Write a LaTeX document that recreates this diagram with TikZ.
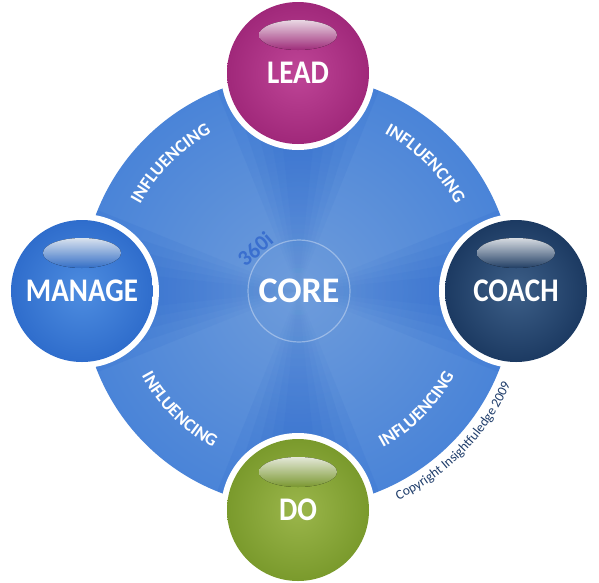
\documentclass[tikz,border=0pt]{standalone}
\usepackage{fontspec}
\setmainfont{Carlito}
\usetikzlibrary{decorations.text,fadings,shadings}
\definecolor{diskin}{HTML}{6E9CDB}
\definecolor{diskout}{HTML}{4A84D8}
\definecolor{diskdark}{HTML}{2E6ACD}
\definecolor{leadin}{HTML}{BF4597}
\definecolor{leadout}{HTML}{A0287A}
\definecolor{manin}{HTML}{4E8DE0}
\definecolor{manout}{HTML}{2F6DCC}
\definecolor{coachin}{HTML}{3D5F88}
\definecolor{coachout}{HTML}{1C3A62}
\definecolor{doin}{HTML}{9BB64B}
\definecolor{doout}{HTML}{7A9A2C}
\definecolor{copyc}{HTML}{1F3D6B}
\definecolor{numc}{HTML}{3A6FCF}
\tikzfading[name=outfade, inner color=transparent!100, outer color=transparent!0]
\newcommand\inflfont{\bfseries\fontsize{18}{18}\selectfont}
\newcommand\copyfont{\fontsize{13.5}{13.5}\selectfont}
\newcommand\balltext[1]{\scalebox{0.88}[1]{#1}}
\tikzset{
  ring/.style={circle, fill=white, minimum size=154pt, inner sep=0pt},
  ball/.style n args={2}{circle, minimum size=142pt, inner sep=0pt, inner color=#1, outer color=#2,
     text=white, font=\bfseries\fontsize{33}{33}\selectfont},
  gloss/.style n args={2}{top color=white!85!#1, bottom color=#2!80!#1, opacity=0.95},
  influ/.style={decorate, decoration={text along path, text={|\inflfont|INFLUENCING}, text align=center, text color=white}},
  balllabel/.style={text=white, font=\bfseries\fontsize{33}{33}\selectfont},
}
\begin{document}
\begin{tikzpicture}[x=1pt,y=1pt]
\useasboundingbox (-298,-291) rectangle (301,291);
\fill[white] (-298,-291) rectangle (301,291);
% main disk
\shade[inner color=diskin, outer color=diskout] (0,0) circle (216);
\begin{scope}
  \clip (0,0) circle (216);
  \foreach \a in {0,90,180,270} {
    \foreach \w in {6,10,14,18,22} {
      \fill[diskdark, fill opacity=0.16, path fading=outfade, fit fading=false, fading transform={scale=7}]
        (0,0) -- (\a-\w:260) -- (\a+\w:260) -- cycle;
    }
  }
\end{scope}
% core
\node[circle, draw=white, draw opacity=0.35, line width=1.2pt, minimum size=102pt, inner sep=0pt] (corering) at (1,0) {};
\node[text=white, font=\bfseries\fontsize{36}{36}\selectfont] (core) at (1,0) {CORE};
\node[text=numc, font=\bfseries\fontsize{22}{22}\selectfont, rotate=41, inner sep=0pt] (num) at (-43,42) {360i};
% influencing labels
\path[influ] (165:180) arc[start angle=165, end angle=105, radius=180];
\path[influ] (75:180) arc[start angle=75, end angle=15, radius=180];
\path[influ] (195:178) arc[start angle=195, end angle=255, radius=178];
\path[influ] (285:178) arc[start angle=285, end angle=345, radius=178];
% copyright
\path[decorate, decoration={text along path, text={|\copyfont|Copyright Insightfuledge 2009}, text align=center, text color=copyc}]
  (-68:232) arc[start angle=-68, end angle=-20, radius=232];
% satellites
\node[ring] (leadring) at (0,218) {};
\node[ring] (manring) at (-216,0) {};
\node[ring] (coachring) at (218,0) {};
\node[ring] (doring) at (0,-219) {};
\node[ball={leadin}{leadout}] (lead) at (0,218) {};
\node[ball={manin}{manout}] (manage) at (-216,0) {};
\node[ball={coachin}{coachout}] (coach) at (218,0) {};
\node[ball={doin}{doout}] (do) at (0,-219) {};
\fill[gloss={leadin}{leadout}] ([yshift=38pt]lead.center) ellipse [x radius=39, y radius=15];
\fill[gloss={manin}{manout}] ([yshift=38pt]manage.center) ellipse [x radius=39, y radius=15];
\fill[gloss={coachin}{coachout}] ([yshift=38pt]coach.center) ellipse [x radius=39, y radius=15];
\fill[gloss={doin}{doout}] ([yshift=38pt]do.center) ellipse [x radius=39, y radius=15];
\node[balllabel] (leadt) at (lead) {\balltext{LEAD}};
\node[balllabel] (managet) at (manage) {\balltext{MANAGE}};
\node[balllabel] (coacht) at (coach) {\balltext{COACH}};
\node[balllabel] (dot) at (do) {\balltext{DO}};
\end{tikzpicture}
\end{document}
